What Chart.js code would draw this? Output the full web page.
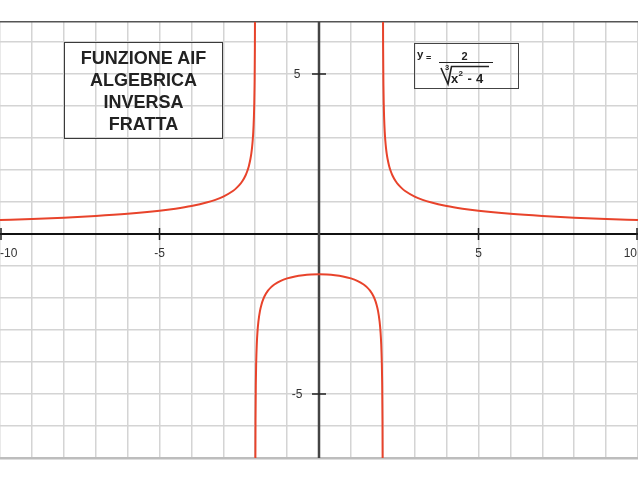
<!DOCTYPE html>
<html>
<head>
<meta charset="utf-8">
<script src="https://cdn.jsdelivr.net/npm/chart.js@4.4.1/dist/chart.umd.min.js"></script>
<style>
  html, body { margin: 0; padding: 0; background: #fff; }
  #wrap { position: relative; width: 638px; height: 479px; overflow: hidden; font-family: "Liberation Sans", Arial, sans-serif; }
  #wrap canvas { position: absolute; left: 0; top: 0; }
  .abs { position: absolute; white-space: nowrap; color: #222; font-weight: bold; }
  #titleBox { position: absolute; left: 64px; top: 42px; width: 159px; height: 97px; box-sizing: border-box;
    border: 1px solid #3a3a3a; text-align: center; font: bold 18px/22px "Liberation Sans", Arial, sans-serif;
    color: #222; padding-top: 4px; }
  #formulaBox { position: absolute; left: 414px; top: 43px; width: 105px; height: 46px; box-sizing: border-box;
    border: 1px solid #444; }
</style>
</head>
<body>
<div id="wrap">
  <canvas id="c" width="638" height="479"></canvas>
  <div id="titleBox">FUNZIONE AIF<br>ALGEBRICA<br>INVERSA<br>FRATTA</div>
  <div id="formulaBox"></div>
  <span class="abs" style="left:417px;top:49.2px;font-size:11.5px;line-height:11.5px;">y</span>
  <span class="abs" style="left:426px;top:54px;font-size:9px;line-height:9px;">=</span>
  <span class="abs" style="left:461.5px;top:50.5px;font-size:11px;line-height:11px;">2</span>
  <div style="position:absolute;left:439px;top:61.5px;width:54px;height:1.3px;background:#222;"></div>
  <span class="abs" style="left:445px;top:63.6px;font-size:7.5px;line-height:7.5px;">3</span>
  <svg style="position:absolute;left:0;top:0;pointer-events:none" width="638" height="479">
    <polyline points="441,68 448,84 451.5,66.5 489,66.5" fill="none" stroke="#222" stroke-width="1.6" stroke-linejoin="miter"/>
  </svg>
  <span class="abs" style="left:451px;top:72px;font-size:13px;line-height:13px;">x</span>
  <span class="abs" style="left:458.5px;top:70.2px;font-size:8px;line-height:8px;">2</span>
  <span class="abs" style="left:467.5px;top:72px;font-size:13px;line-height:13px;">-</span>
  <span class="abs" style="left:476px;top:72px;font-size:13px;line-height:13px;">4</span>
</div>
<script>
// ---- data: y = 2 / cbrt(x^2 - 4) ----
const xLeft  = [-10, -9, -8, -7, -6, -5, -4.5, -4, -3.5, -3.25, -3, -2.7, -2.6, -2.5, -2.4, -2.3, -2.25, -2.2, -2.15, -2.12, -2.1, -2.08, -2.06, -2.05, -2.04, -2.03, -2.02, -2.01, -2.005];
const yLeft  = [0.437, 0.470, 0.511, 0.562, 0.630, 0.725, 0.790, 0.874, 0.990, 1.068, 1.170, 1.345, 1.426, 1.526, 1.656, 1.837, 1.960, 2.120, 2.343, 2.529, 2.692, 2.905, 3.202, 3.406, 3.672, 4.044, 4.634, 5.84, 7.36];
const xMid   = [-1.996, -1.994, -1.99, -1.98, -1.97, -1.95, -1.93, -1.9, -1.85, -1.8, -1.75, -1.7, -1.6, -1.5, -1.4, -1.2, -1, -0.75, -0.5, -0.25, 0, 0.25, 0.5, 0.75, 1, 1.2, 1.4, 1.5, 1.6, 1.7, 1.75, 1.8, 1.85, 1.9, 1.93, 1.95, 1.97, 1.98, 1.99, 1.994, 1.996];
const yMid   = [-7.94, -6.937, -5.851, -4.650, -4.064, -3.435, -3.076, -2.737, -2.402, -2.192, -2.044, -1.932, -1.771, -1.660, -1.577, -1.462, -1.387, -1.325, -1.287, -1.266, -1.260, -1.266, -1.287, -1.325, -1.387, -1.462, -1.577, -1.660, -1.771, -1.932, -2.044, -2.192, -2.402, -2.737, -3.076, -3.435, -4.064, -4.650, -5.851, -6.937, -7.94];
const xRight = [2.005, 2.01, 2.02, 2.03, 2.04, 2.05, 2.06, 2.08, 2.1, 2.12, 2.15, 2.2, 2.25, 2.3, 2.4, 2.5, 2.6, 2.7, 3, 3.25, 3.5, 4, 4.5, 5, 6, 7, 8, 9, 10];
const yRight = [7.36, 5.84, 4.634, 4.044, 3.672, 3.406, 3.202, 2.905, 2.692, 2.529, 2.343, 2.120, 1.960, 1.837, 1.656, 1.526, 1.426, 1.345, 1.170, 1.068, 0.990, 0.874, 0.790, 0.725, 0.630, 0.562, 0.511, 0.470, 0.437];

const xTickValues = [-10, -5, 5, 10];
const xTickLabels = ["-10", "-5", "5", "10"];
const yTickValues = [5, -5];
const yTickLabels = ["5", "-5"];

const X_MIN = -10, X_MAX = 10, Y_MIN = -7, Y_MAX = 6.625;

function pts(xs, ys) { return xs.map((x, i) => ({ x: x, y: ys[i] })); }

const curveStyle = {
  showLine: true, borderColor: '#e8432b', borderWidth: 2, pointRadius: 0, pointHoverRadius: 0,
  cubicInterpolationMode: 'monotone', fill: false
};

const axesPlugin = {
  id: 'axesPlugin',
  beforeDatasetsDraw(chart) {
    const { ctx, chartArea: a } = chart;
    const sx = chart.scales.x, sy = chart.scales.y;
    const x0 = sx.getPixelForValue(0), y0 = sy.getPixelForValue(0);
    ctx.save();
    ctx.strokeStyle = '#111'; ctx.lineWidth = 2;
    ctx.beginPath(); ctx.moveTo(a.left, y0); ctx.lineTo(a.right, y0); ctx.stroke();
    ctx.strokeStyle = '#444'; ctx.lineWidth = 2.5;
    ctx.beginPath(); ctx.moveTo(x0, a.top); ctx.lineTo(x0, a.bottom); ctx.stroke();
    ctx.strokeStyle = '#222'; ctx.lineWidth = 1.5;
    xTickValues.forEach(v => {
      const px = Math.min(Math.max(sx.getPixelForValue(v), a.left + 1), a.right - 1);
      ctx.beginPath(); ctx.moveTo(px, y0 - 6); ctx.lineTo(px, y0 + 6); ctx.stroke();
    });
    yTickValues.forEach(v => {
      const py = sy.getPixelForValue(v);
      ctx.beginPath(); ctx.moveTo(x0 - 7, py); ctx.lineTo(x0 + 7, py); ctx.stroke();
    });
    ctx.font = '12px "Liberation Sans", Arial, sans-serif';
    ctx.fillStyle = '#333';
    ctx.textBaseline = 'middle';
    ctx.textAlign = 'left';
    xTickValues.forEach((v, i) => {
      const px = sx.getPixelForValue(v);
      const w = ctx.measureText(xTickLabels[i]).width;
      const left = Math.max(a.left, Math.min(px - w / 2, a.right - w - 1));
      ctx.fillText(xTickLabels[i], left, y0 + 20);
    });
    ctx.textAlign = 'center';
    yTickValues.forEach((v, i) => {
      ctx.fillText(yTickLabels[i], x0 - 22, sy.getPixelForValue(v) + 1);
    });
    ctx.restore();
  }
};

new Chart(document.getElementById('c'), {
  type: 'scatter',
  data: {
    datasets: [
      Object.assign({ data: pts(xLeft, yLeft) }, curveStyle),
      Object.assign({ data: pts(xMid, yMid) }, curveStyle),
      Object.assign({ data: pts(xRight, yRight) }, curveStyle)
    ]
  },
  options: {
    responsive: false,
    animation: false,
    events: [],
    layout: { autoPadding: false, padding: { top: 22, bottom: 21, left: 0, right: 0 } },
    plugins: { legend: { display: false }, tooltip: { enabled: false } },
    scales: {
      x: {
        type: 'linear', min: X_MIN, max: X_MAX,
        ticks: { display: false, stepSize: 1 },
        border: { display: false },
        grid: {
          drawTicks: false,
          color: ctx => (ctx.tick && ctx.tick.value === 0) ? 'rgba(0,0,0,0)' : '#d4d4d4',
          lineWidth: 1.5
        }
      },
      y: {
        type: 'linear', min: Y_MIN, max: Y_MAX,
        ticks: { display: false, stepSize: 1 },
        border: { display: false },
        grid: {
          drawTicks: false,
          color: ctx => {
            const v = ctx.tick ? ctx.tick.value : null;
            if (v === 0) return 'rgba(0,0,0,0)';
            if (v === Y_MAX) return '#555';
            if (v === Y_MIN) return '#bdbdbd';
            return '#d4d4d4';
          },
          lineWidth: ctx => {
            const v = ctx.tick ? ctx.tick.value : null;
            if (v === Y_MIN) return 2.5;
            return 1.5;
          }
        }
      }
    }
  },
  plugins: [axesPlugin]
});
</script>
</body>
</html>
